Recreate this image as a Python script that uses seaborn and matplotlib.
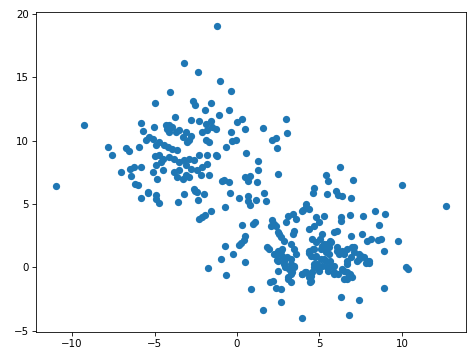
import matplotlib
matplotlib.use('Agg')
import matplotlib.pyplot as plt
import seaborn as sns
import pandas as pd

# upper-left blob
x_a = [-1.2, -3.2, -2.35, -1.0, -4.05, -0.38, -4.95, -2.65, -2.55, -1.6,
       0.3, 3.0, -9.3, 1.6, 0.5, 3.05, 2.1, 2.35, -7.8, -6.75,
       -6.55, -7.55, 0.55, 1.3, -7.05, -6.5, -6.25, -6.4, 1.3, 2.5,
       0.5, 0.8, 0.65, 1.2, -6.2, -11.0, -5.8, -4.75, -3.55, -2.35,
       0.15, 0.65, 0.65, 0.8, 1.15, 1.65, 1.75, -0.75, -1.6, -1.95,
       -2.1, -2.3, -0.4, -2.0, -2.55, 2.4, -0.9, -5.4, -4.9,
       -3.75, -5.83, -4.15, -3.91, -4.27, -4.11, -3.71, -3.51, -3.10, -3.30,
       -2.90, -3.00, -2.76, -2.30, -1.89, -1.59, -1.49, -1.79, -1.29, -2.10,
       -1.89, -1.69, -1.08, -0.48, -1.93, -0.38, -0.08, 0.02, -0.68, -5.68,
       -5.32, -5.52, -5.12, -4.92, -4.72, -4.41, -4.21, -3.91, -3.61, -5.92,
       -4.72, -4.51, -4.61, -4.92, -4.51, -5.12, -4.82, -4.11, -3.81, -3.51,
       -3.20, -2.90, -2.60, -3.10, -2.80, -2.40, -2.10, -1.79, -3.51, -3.10,
       -3.61, -3.30, -2.90, -2.19, -1.69, -1.79, -1.29, -0.78, -0.48, -5.83,
       -6.03, -5.42, -4.92, -3.20, -2.60, -2.40, -5.05, -4.3, -2.8, -0.3,
       -5.0, -2.3, -3.8, -1.2]
y_a = [19.0, 16.1, 15.4, 14.7, 13.85, 13.9, 13.0, 13.1, 12.8, 13.0,
       11.7, 11.7, 11.2, 11.0, 10.9, 10.6, 10.05, 10.2, 9.5, 9.45,
       9.15, 8.9, 9.0, 8.4, 7.5, 7.75, 7.95, 7.2, 7.7, 7.4,
       7.15, 7.2, 6.85, 6.7, 6.6, 6.4, 5.5, 5.1, 5.2, 5.3,
       5.5, 5.6, 5.25, 4.95, 5.3, 5.85, 5.25, 4.75, 4.45, 4.1,
       3.95, 3.8, 5.85, 5.8, 6.05, 9.45, 6.8, 5.85, 5.4,
       11.87, 11.42, 11.26, 11.08, 10.89, 10.68, 10.68, 10.82, 10.68, 10.29,
       10.03, 9.89, 11.66, 11.53, 11.34, 11.53, 11.08, 10.82, 10.95, 10.68,
       10.03, 9.89, 12.0, 12.39, 12.39, 10.68, 10.03, 11.47, 9.5, 10.73,
       10.29, 10.03, 10.16, 9.63, 9.89, 9.63, 9.5, 9.37, 9.24, 9.5,
       8.84, 8.58, 8.32, 8.05, 7.66, 7.53, 7.0, 8.71, 8.58, 8.32,
       8.45, 8.58, 8.45, 8.05, 7.79, 7.66, 7.92, 8.19, 7.66, 7.26,
       7.13, 7.0, 7.13, 7.26, 7.26, 8.84, 8.84, 6.87, 6.74, 7.92,
       6.47, 5.95, 5.69, 5.82, 6.21, 5.95, 11.05, 11.2, 10.4, 10.0,
       8.8, 8.9, 7.5, 8.8]

# lower-right blob
x_b = [6.25, 5.4, 5.5, 7.05, 10.0, 12.7, 4.65, 4.6, 5.45, 6.0,
       6.1, 6.35, 6.9, 0.3, 1.1, 1.0, 0.5, 0.4, 0.25, 0.15,
       9.0, 8.6, 8.9, 10.25, 10.35, 8.9, 7.4, 6.8, 6.3, 3.95,
       2.7, 1.55, 0.85, 2.0, 2.35, 2.7, -1.75, -0.65, -0.95, -0.75,
       -0.25, 0.5, 1.8, 1.95, 2.45, 2.4, 2.5, 2.75, 9.75, 2.15,
       2.05, 2.35, 4.17, 4.38, 3.97, 3.37, 3.07, 3.57, 2.97, 2.26,
       4.78, 5.29, 4.98, 4.68, 4.38, 6.29, 6.29, 6.84, 7.64, 8.37,
       5.89, 6.09, 6.94, 7.6, 7.91, 8.1, 2.56, 2.66, 2.86, 2.46,
       3.47, 3.37, 4.58, 4.78, 5.18, 5.29, 5.69, 5.59, 5.08, 5.39,
       4.68, 4.38, 6.09, 6.39, 6.49, 6.99, 7.1, 6.89, 6.69, 7.4,
       7.5, 8.0, 7.8, 2.26, 2.46, 2.76, 2.86, 3.27, 3.47, 3.17,
       3.27, 3.07, 2.66, 4.78, 5.08, 4.88, 5.39, 5.18, 4.68, 4.98,
       5.49, 5.89, 5.69, 4.58, 4.18, 3.97, 4.38, 4.48, 6.39, 6.69,
       6.49, 6.79, 2.46, 2.16, 7.08, 7.28, 6.67, 7.38, 6.47, 6.87,
       6.97, 6.67, 7.68, 7.88, 7.98, 5.9, 6.1, 3.95, 4.15, 4.46,
       4.42, 3.25, 3.08, 4.6, 4.35, 4.46, 4.76, 4.66, 4.86, 5.06,
       5.16, 5.46, 5.67, 5.36, 5.56, 5.26, 5.67, 5.87, 5.46, 6.07,
       6.17, 6.47, 6.67, 3.25, 3.45, 3.55, 3.04, 2.84, 3.25, 3.45,
       2.94, 3.35, 4.2, 4.0, 8.55, 8.75]
y_b = [7.9, 7.3, 6.85, 6.9, 6.5, 4.85, 6.3, 5.85, 5.8, 6.0,
       5.7, 5.6, 5.45, 3.35, 3.55, 3.4, 2.5, 2.15, 1.9, 1.8,
       4.25, 3.35, 1.3, 0.05, -0.15, -1.65, -2.6, -3.75, -2.3, -3.95,
       -2.75, -3.35, -1.7, -1.15, -1.65, -1.7, -0.05, -0.6, 0.65, 1.7,
       1.05, 0.4, 1.6, 1.45, 1.05, 0.6, 1.3, 1.45, 2.05, 3.75,
       3.25, 3.25, 5.0, 4.6, 4.47, 4.21, 4.08, 3.81, 3.55, 3.42,
       3.95, 4.08, 3.55, 3.29, 3.03, 3.95, 3.69, 4.16, 4.08, 4.47,
       2.77, 2.84, 2.5, 2.63, 2.11, 2.24, 2.63, 2.37, 2.11, 2.76,
       2.9, 2.63, 2.24, 1.97, 2.63, 1.84, 1.97, 1.58, 1.45, 1.18,
       1.45, 1.32, 1.58, 1.32, 1.05, 1.58, 1.18, 0.79, 0.53, 0.66,
       0.92, 0.53, 0.39, 1.05, 0.53, 0.92, 0.26, 0.66, 0.13, -0.13,
       -0.53, -0.92, 1.32, 0.92, 0.66, 0.26, 0.53, 0.13, 0.0, -0.26,
       -0.26, -0.39, 0.13, -0.39, -0.39, -0.53, -0.79, -1.05, -0.13, -0.39,
       -0.92, -0.66, -0.26, -1.05, 1.58, 0.53, 0.26, 1.05, -0.26, -0.53,
       -0.79, -0.92, 0.79, 0.53, 0.39, -0.5, -0.5, -0.53, -0.39, -0.66,
       -1.18, -1.18, -0.79, 1.45, 1.13, 0.92, 0.79, 0.26, 0.0, 2.24,
       1.71, 1.84, 2.11, 1.45, 1.05, 0.66, 0.53, 0.13, 0.0, 1.32,
       1.05, 1.18, 1.45, 1.84, 1.45, 1.05, 0.79, 0.53, 0.26, 0.0,
       0.0, -0.39, 4.75, 4.5, 2.15, 2.25]

df = pd.DataFrame({'x': x_a + x_b, 'y': y_a + y_b})

fig, ax = plt.subplots(figsize=(474 / 74, 361 / 74), dpi=74)
sns.scatterplot(data=df, x='x', y='y', ax=ax, s=50, color='#1f77b4', linewidth=0)
ax.set_xlabel('')
ax.set_ylabel('')
fig.subplots_adjust(left=0.076, right=0.983, top=0.967, bottom=0.08)
fig.savefig('out.png', dpi=74)
